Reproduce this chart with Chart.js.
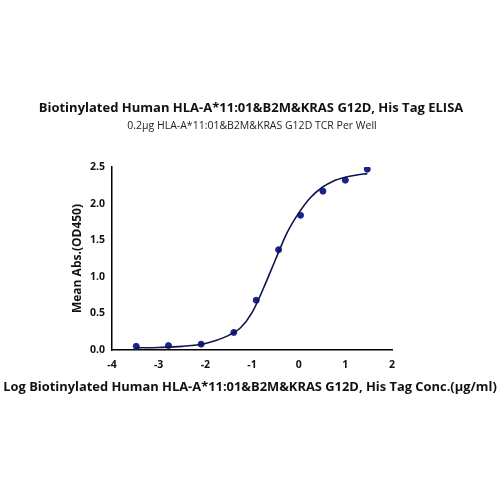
<!DOCTYPE html>
<html>
<head>
<meta charset="utf-8">
<script src="https://cdn.jsdelivr.net/npm/chart.js@4"></script>
<style>
  html, body { margin: 0; padding: 0; background: #fff; }
  #wrap { width: 500px; height: 500px; }
</style>
</head>
<body>
<div id="wrap"><canvas id="myChart" width="500" height="500"></canvas></div>
<script>
// measured points (log conc, OD450)
var logConc = [-3.48, -2.79, -2.09, -1.39, -0.91, -0.43, 0.04, 0.52, 1.00, 1.47];
var od450 = [0.05, 0.06, 0.08, 0.24, 0.68, 1.37, 1.84, 2.17, 2.32, 2.47];

// fitted curve
var curveX = [-3.48, -3.0, -2.5, -2.0, -1.5, -1.25, -1.0, -0.75, -0.5, -0.25, 0.0, 0.25, 0.5, 0.75, 1.0, 1.25, 1.47];
var curveY = [0.03, 0.035, 0.05, 0.09, 0.2, 0.3, 0.51, 0.85, 1.23, 1.6, 1.87, 2.08, 2.22, 2.31, 2.36, 2.39, 2.41];

var xTicks = [-4, -3, -2, -1, 0, 1, 2];
var yTicks = [0, 0.5, 1.0, 1.5, 2.0, 2.5];

var titleText = 'Biotinylated Human HLA-A*11:01&B2M&KRAS G12D, His Tag ELISA';
var subtitleText = '0.2\u00b5g HLA-A*11:01&B2M&KRAS G12D TCR Per Well';
var xTitle = 'Log Biotinylated Human HLA-A*11:01&B2M&KRAS G12D, His Tag Conc.(\u00b5g/ml)';
var yTitle = 'Mean Abs.(OD450)';

var fontFam = '"Open Sans", "Noto Sans", sans-serif';

function toXY(xs, ys) {
    return xs.map(function (x, i) { return { x: x, y: ys[i] }; });
}

// titles drawn by hand so they are not squeezed to the plot width
var textPlugin = {
    id: 'texts',
    afterDraw: function (chart) {
        var c = chart.ctx;
        c.save();
        c.textAlign = 'center';
        c.textBaseline = 'middle';
        c.fillStyle = '#111';
        c.font = 'bold 13px ' + fontFam;
        c.fillText(titleText, 251, 108);
        c.fillStyle = '#222';
        c.font = '10.5px ' + fontFam;
        c.fillText(subtitleText, 252, 126);
        c.fillStyle = '#111';
        c.font = 'bold 12.9px ' + fontFam;
        c.fillText(xTitle, 250, 387);
        c.restore();
    }
};

const ctx = document.getElementById('myChart');
new Chart(ctx, {
    type: 'scatter',
    data: {
        datasets: [{
            label: 'curve',
            data: toXY(curveX, curveY),
            showLine: true,
            borderColor: '#10124f',
            borderWidth: 1.6,
            pointRadius: 0,
            tension: 0.4,
            cubicInterpolationMode: 'monotone'
        }, {
            label: 'points',
            data: toXY(logConc, od450),
            showLine: false,
            backgroundColor: '#1a2387',
            borderColor: '#1a2387',
            pointRadius: 3,
            pointHoverRadius: 3
        }]
    },
    plugins: [textPlugin],
    options: {
        responsive: false,
        animation: false,
        layout: { padding: { top: 167, left: 70, right: 108, bottom: 100 } },
        plugins: {
            legend: { display: false },
            tooltip: { enabled: false }
        },
        scales: {
            x: {
                type: 'linear',
                min: -4,
                max: 2,
                afterFit: function (s) { s.height = 50; },
                afterBuildTicks: function (s) { s.ticks = xTicks.map(function (v) { return { value: v }; }); },
                grid: { display: false, drawOnChartArea: false, drawTicks: true, tickLength: 5, tickColor: '#000', tickWidth: 1.5 },
                border: { color: '#000', width: 1.5 },
                ticks: {
                    color: '#111',
                    padding: 4,
                    maxRotation: 0,
                    font: { family: fontFam, size: 10.5, weight: 'bold' }
                }
            },
            y: {
                type: 'linear',
                min: 0,
                max: 2.5,
                afterFit: function (s) { s.width = 42; },
                afterBuildTicks: function (s) { s.ticks = yTicks.map(function (v) { return { value: v }; }); },
                grid: { display: false, drawOnChartArea: false, drawTicks: true, tickLength: 5, tickColor: '#000', tickWidth: 1.5 },
                border: { color: '#000', width: 1.5 },
                title: {
                    display: true,
                    text: yTitle,
                    color: '#111',
                    font: { family: fontFam, size: 12, weight: 'bold' },
                    padding: 0
                },
                ticks: {
                    color: '#111',
                    padding: 2,
                    font: { family: fontFam, size: 10.5, weight: 'bold' },
                    callback: function (v) { return Number(v).toFixed(1); }
                }
            }
        }
    }
});
</script>
</body>
</html>
